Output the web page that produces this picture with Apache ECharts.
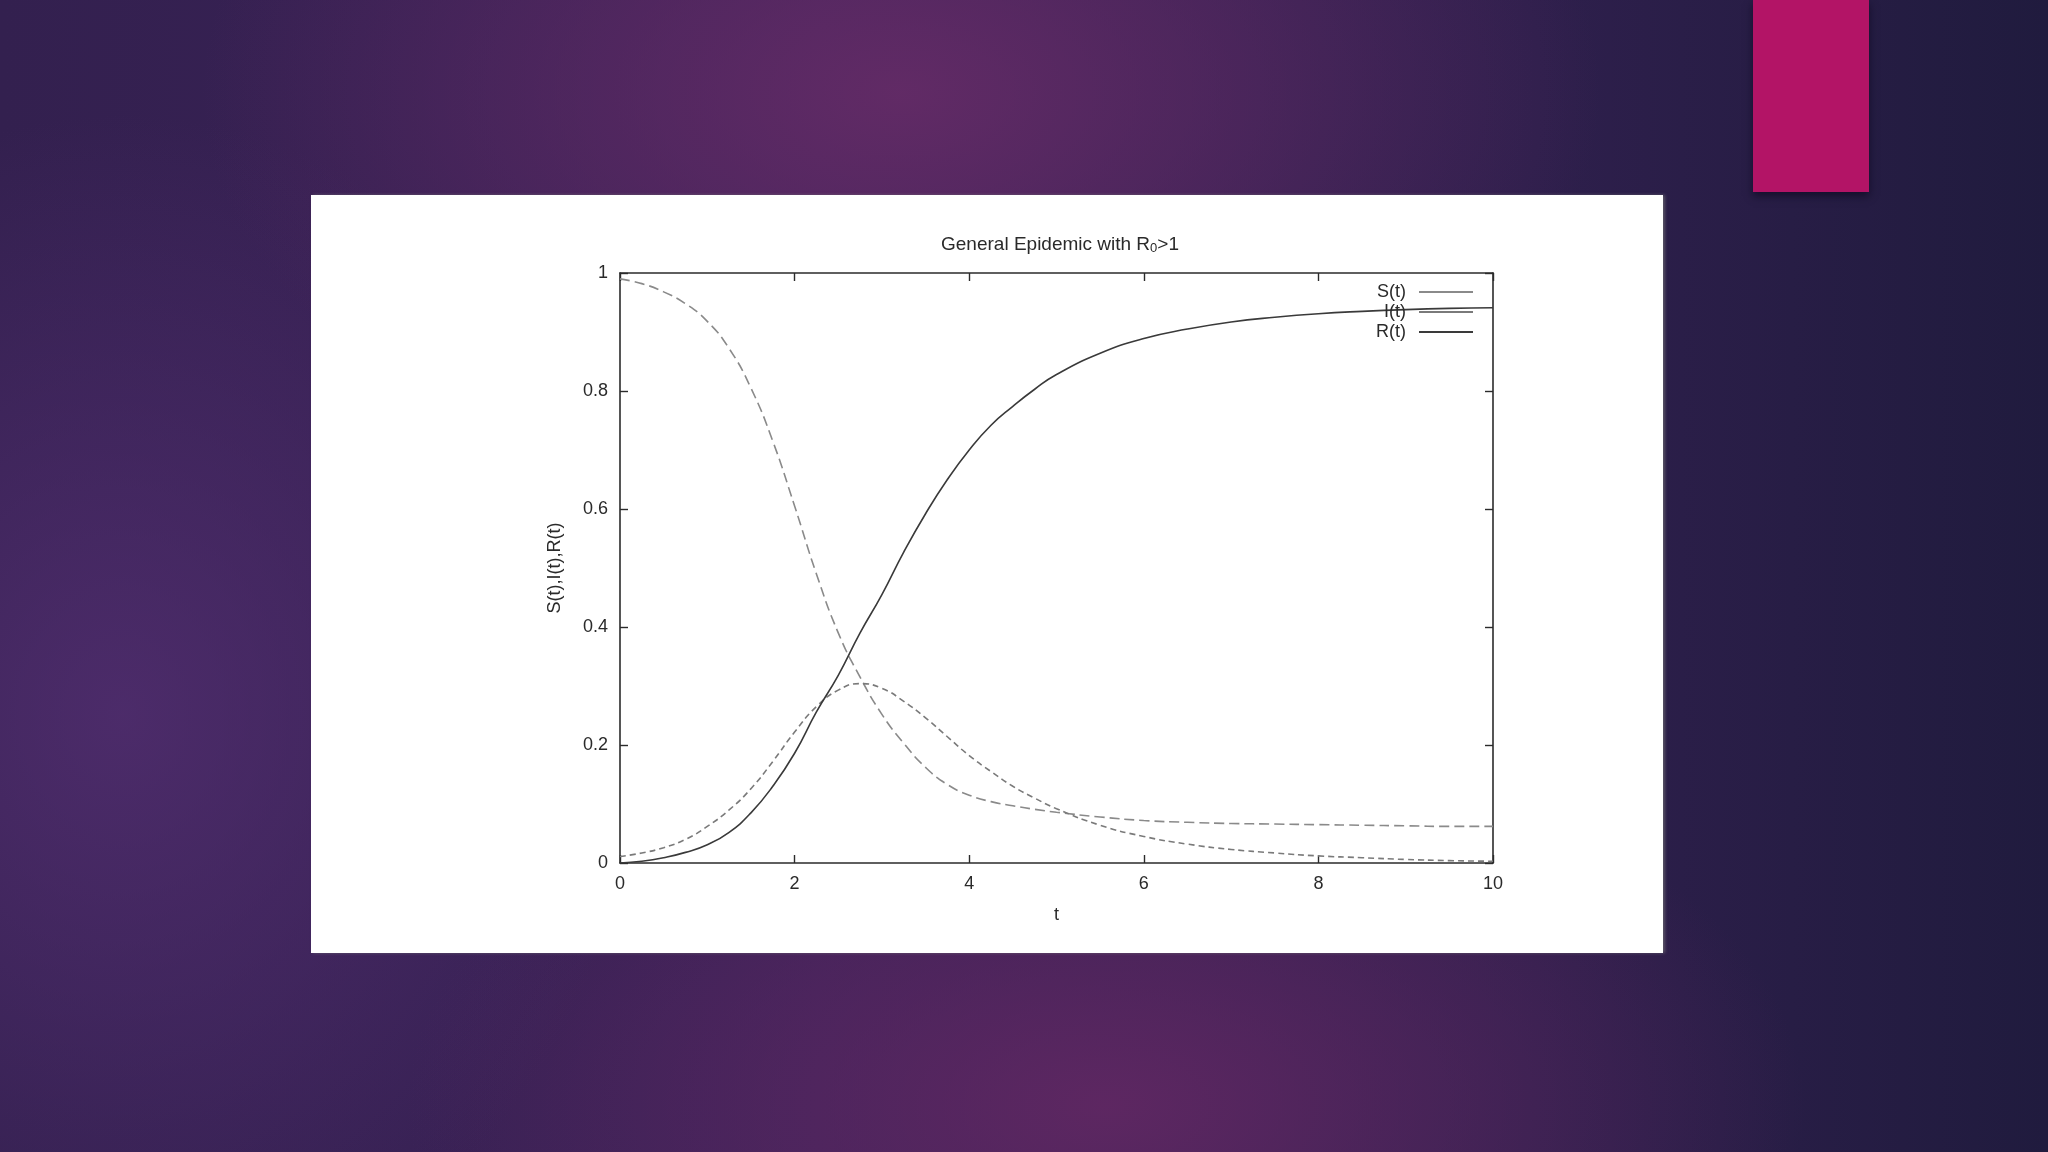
<!DOCTYPE html>
<html>
<head>
<meta charset="utf-8">
<script src="https://cdn.jsdelivr.net/npm/echarts@6/dist/echarts.min.js"></script>
<style>
  html, body { margin:0; padding:0; width:2048px; height:1152px; overflow:hidden; }
  body {
    background:
      radial-gradient(ellipse 700px 420px at 44% 8%, rgba(104,44,104,0.85) 0%, rgba(104,44,104,0) 100%),
      radial-gradient(ellipse 700px 380px at 54% 96%, rgba(100,40,100,0.85) 0%, rgba(100,40,100,0) 100%),
      radial-gradient(ellipse 520px 600px at 6% 62%, rgba(82,46,112,0.8) 0%, rgba(82,46,112,0) 100%),
      linear-gradient(90deg, #33204f 0%, #3b2258 40%, #2e1f4c 75%, #201b3e 100%);
  }
  #panel { position:absolute; left:311px; top:195px; width:1352px; height:758px; background:#ffffff;
           box-shadow: 2px 0 3px rgba(120,120,120,0.6); }
  #pink { position:absolute; left:1753px; top:0; width:116px; height:192px; background:#b31466;
          box-shadow: 0 4px 8px rgba(10,5,25,0.6); }
  #chart { position:absolute; left:0; top:0; width:2048px; height:1152px; }
</style>
</head>
<body>
<div id="panel"></div>
<div id="pink"></div>
<div id="chart"></div>
<script>
// ---- data ----
var tValues = [0, 0.25, 0.5, 0.75, 1, 1.25, 1.5, 1.75, 2, 2.25, 2.5, 2.75, 3, 3.25, 3.5, 3.75, 4, 4.25, 4.5, 4.75, 5, 5.5, 6, 6.5, 7, 7.5, 8, 8.5, 9, 9.5, 10];
var sValues = [0.99, 0.982, 0.968, 0.948, 0.918, 0.872, 0.805, 0.715, 0.605, 0.49, 0.39, 0.315, 0.252, 0.203, 0.162, 0.133, 0.115, 0.104, 0.097, 0.091, 0.086, 0.078, 0.072, 0.069, 0.067, 0.066, 0.065, 0.064, 0.063, 0.062, 0.062];
var iValues = [0.011, 0.017, 0.026, 0.04, 0.062, 0.09, 0.126, 0.172, 0.222, 0.265, 0.293, 0.304, 0.296, 0.274, 0.246, 0.214, 0.182, 0.155, 0.13, 0.11, 0.092, 0.064, 0.045, 0.032, 0.023, 0.017, 0.012, 0.009, 0.006, 0.004, 0.003];
var rValues = [0.0, 0.003, 0.009, 0.018, 0.031, 0.052, 0.085, 0.13, 0.186, 0.256, 0.318, 0.39, 0.455, 0.527, 0.592, 0.65, 0.70, 0.742, 0.774, 0.803, 0.828, 0.864, 0.889, 0.905, 0.917, 0.925, 0.931, 0.935, 0.938, 0.94, 0.941];
var seriesNames = ['S(t)', 'I(t)', 'R(t)'];
var xTickLabels = ['0', '2', '4', '6', '8', '10'];
var yTickLabels = ['0', '0.2', '0.4', '0.6', '0.8', '1'];

function pairs(vals) { return tValues.map(function (t, i) { return [t, vals[i]]; }); }

var font = 'Liberation Sans';
var axisColor = '#2b2b2b';
var chart = echarts.init(document.getElementById('chart'), null, { renderer: 'canvas' });

var baseX = {
  type: 'value', min: 0, max: 10, interval: 2,
  axisLine: { show: true, onZero: false, lineStyle: { color: axisColor, width: 1.6 } },
  axisTick: { show: true, inside: true, length: 8, lineStyle: { color: axisColor, width: 1.4 } },
  splitLine: { show: false }
};
var baseY = {
  type: 'value', min: 0, max: 1, interval: 0.2,
  axisLine: { show: true, onZero: false, lineStyle: { color: axisColor, width: 1.6 } },
  axisTick: { show: true, inside: true, length: 8, lineStyle: { color: axisColor, width: 1.4 } },
  splitLine: { show: false }
};

chart.setOption({
  backgroundColor: 'transparent',
  animation: false,
  title: {
    text: 'General Epidemic with R{sub|0}>1',
    left: 1055, top: 229, textAlign: 'center',
    textStyle: {
      fontFamily: font, fontSize: 19, fontWeight: 'normal', color: '#2a2a2a',
      rich: { sub: { fontFamily: font, fontSize: 13, color: '#2a2a2a', verticalAlign: 'bottom', padding: [8, 0, 0, 0] } }
    }
  },
  grid: { left: 620, right: 555, top: 273, bottom: 289, containLabel: false },
  legend: {
    data: seriesNames,
    orient: 'vertical', align: 'right',
    right: 570, top: 278,
    itemWidth: 54, itemHeight: 14, itemGap: 2,
    icon: 'path://M0,6 L54,6 L54,8 L0,8 Z',
    textStyle: { fontFamily: font, fontSize: 18, color: '#2a2a2a', padding: [0, 8, 0, 0] },
    selectedMode: false
  },
  xAxis: [
    Object.assign({}, baseX, {
      position: 'bottom',
      name: 't', nameLocation: 'middle', nameGap: 43,
      nameTextStyle: { fontFamily: font, fontSize: 18, color: '#2a2a2a' },
      axisLabel: { show: true, margin: 12, fontFamily: font, fontSize: 18, color: '#2a2a2a',
        formatter: function (v) { return xTickLabels[Math.round(v / 2)]; } }
    }),
    Object.assign({}, baseX, { position: 'top', axisLabel: { show: false } })
  ],
  yAxis: [
    Object.assign({}, baseY, {
      position: 'left',
      name: 'S(t),I(t),R(t)', nameLocation: 'middle', nameGap: 56, nameRotate: 90,
      nameTextStyle: { fontFamily: font, fontSize: 18, color: '#2a2a2a' },
      axisLabel: { show: true, margin: 12, fontFamily: font, fontSize: 18, color: '#2a2a2a',
        formatter: function (v) { return yTickLabels[Math.round(v / 0.2)]; } }
    }),
    Object.assign({}, baseY, { position: 'right', axisLabel: { show: false } })
  ],
  series: [
    {
      name: seriesNames[0], type: 'line', data: pairs(sValues), smooth: 0.5, symbol: 'none',
      lineStyle: { color: '#8a8a8a', width: 1.6, type: [10, 5] }, itemStyle: { color: '#8a8a8a' }
    },
    {
      name: seriesNames[1], type: 'line', data: pairs(iValues), smooth: 0.5, symbol: 'none',
      lineStyle: { color: '#7a7a7a', width: 1.6, type: [6, 4] }, itemStyle: { color: '#7a7a7a' }
    },
    {
      name: seriesNames[2], type: 'line', data: pairs(rValues), smooth: 0.5, symbol: 'none',
      lineStyle: { color: '#3a3a3a', width: 1.6, type: 'solid' }, itemStyle: { color: '#3a3a3a' }
    }
  ]
});
</script>
</body>
</html>
